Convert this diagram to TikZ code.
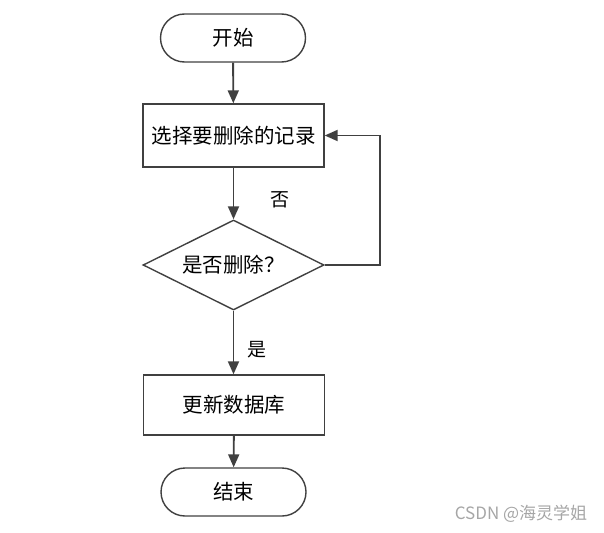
\documentclass[tikz,border=0pt]{standalone}
\usepackage{fontspec}
\newfontfamily\cjk{Noto Sans CJK SC}
\usetikzlibrary{arrows.meta,shapes.geometric}
\definecolor{linegray}{HTML}{404040}

\tikzset{
	base/.style={draw=linegray, line width=1.4pt, font=\cjk\fontsize{20.5}{22}\selectfont, inner sep=0pt},
	term/.style={base, rectangle, rounded corners=24pt, minimum width=145pt, minimum height=48pt},
	proc/.style={base, rectangle, minimum width=181pt, minimum height=63pt},
	decide/.style={base, diamond, aspect=2, minimum width=181pt, minimum height=90pt},
	arr/.style={draw=linegray, line width=1.9pt, -{Triangle[length=13pt,width=11pt]}},
}

\begin{document}
\begin{tikzpicture}[x=1pt,y=-1pt]
		\useasboundingbox (0,0) rectangle (604,532);
		
		\node[term] (start) at (233,38) {开始};
		\node[proc] (select) at (233.5,135.5) {选择要删除的记录};
		\node[decide] (ask) at (233.5,265) {是否删除？};
		\node[proc, minimum height=60pt] (update) at (234,405) {更新数据库};
		\node[term] (stop) at (233.5,492) {结束};
		
		\coordinate (back) at (380,265);
		
		\draw[arr] (start) -- (select);
		\draw[arr] (select) -- (ask);
		\draw[arr] (ask.south) -- (ask.south |- update.north) node[pos=0.62, right=10pt, font=\cjk\fontsize{19}{21}\selectfont]{是};
		\draw[arr] (update) -- (stop);
		\draw[arr] (ask.east) -- (back) |- (select.east);
		
		\node[font=\cjk\fontsize{19}{21}\selectfont] (no) at (280,200) {否};
		
		%\node at (520,514) {watermark};
		\node[font=\cjk\fontsize{17}{19}\selectfont, text=gray!70] (mark) at (521,514) {CSDN @海灵学姐};
	\end{tikzpicture}
\end{document}
